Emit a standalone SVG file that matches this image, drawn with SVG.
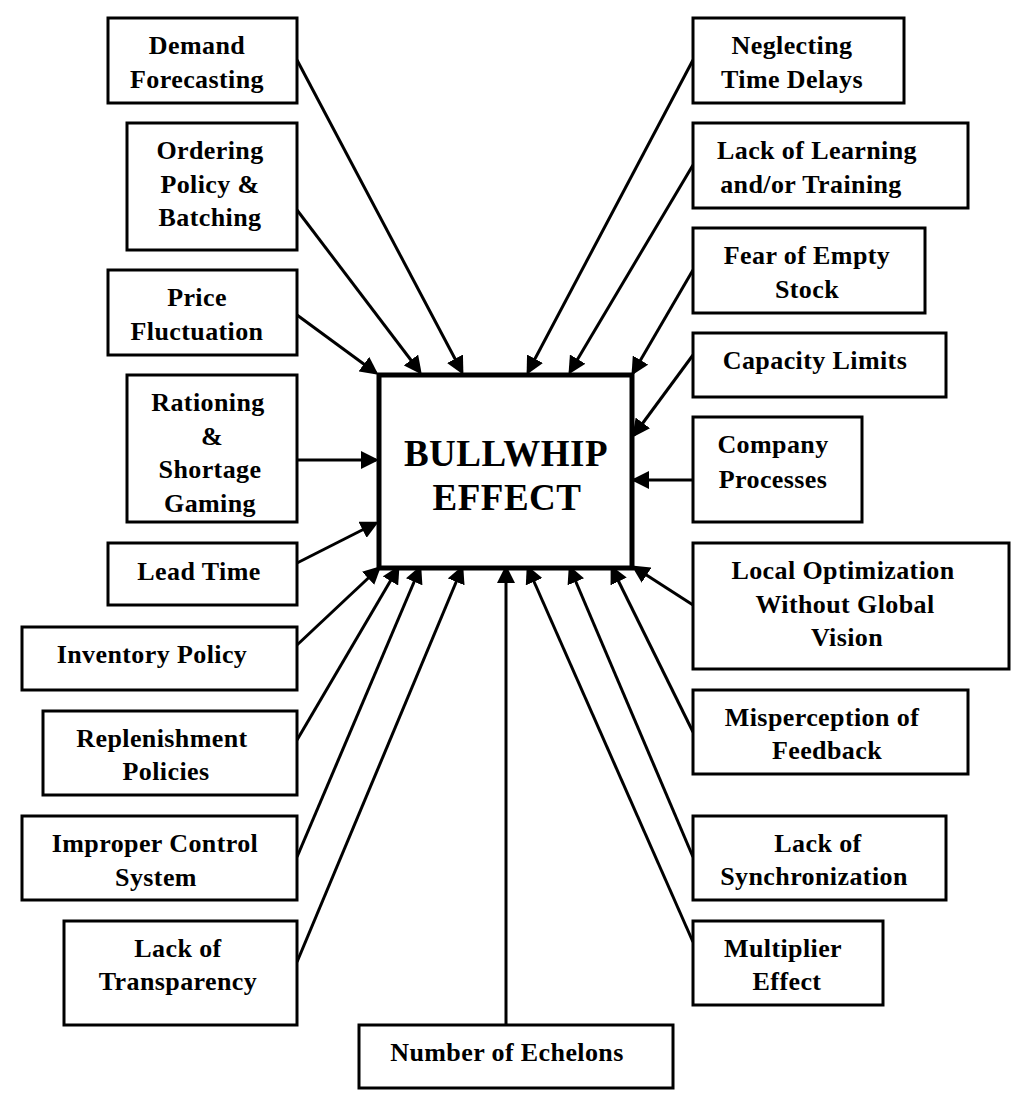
<svg xmlns="http://www.w3.org/2000/svg" width="1023" height="1099" viewBox="0 0 1023 1099">
<style>
.b{fill:#fff;stroke:#000;stroke-width:3}
.t{font-family:"Liberation Serif",serif;font-weight:bold;font-size:26px;letter-spacing:0.4px;text-anchor:middle;fill:#000}
.c{stroke:#000;stroke-width:3;fill:none;marker-end:url(#a)}
</style>
<defs><marker id="a" markerWidth="6" markerHeight="6" refX="5" refY="3" orient="auto"><path d="M0,0L6,3L0,6z" fill="#000"/></marker></defs>
<rect width="1023" height="1099" fill="#fff"/>
<g id="connectors">
<line class="c" x1="297" y1="60" x2="462" y2="372"/>
<line class="c" x1="297" y1="210" x2="420" y2="372"/>
<line class="c" x1="297" y1="315" x2="376" y2="373"/>
<line class="c" x1="297" y1="460" x2="376" y2="460"/>
<line class="c" x1="297" y1="563" x2="376" y2="523"/>
<line class="c" x1="297" y1="645" x2="379" y2="568"/>
<line class="c" x1="297" y1="740" x2="398" y2="568"/>
<line class="c" x1="297" y1="857" x2="420" y2="568"/>
<line class="c" x1="297" y1="962" x2="462" y2="568"/>
<line class="c" x1="506" y1="1025" x2="506" y2="568"/>
<line class="c" x1="693" y1="60" x2="528" y2="372"/>
<line class="c" x1="693" y1="165" x2="570" y2="372"/>
<line class="c" x1="693" y1="270" x2="633" y2="373"/>
<line class="c" x1="693" y1="355" x2="634" y2="435"/>
<line class="c" x1="693" y1="480" x2="634" y2="480"/>
<line class="c" x1="693" y1="605" x2="634" y2="567"/>
<line class="c" x1="693" y1="732" x2="612" y2="568"/>
<line class="c" x1="693" y1="857" x2="570" y2="568"/>
<line class="c" x1="693" y1="942" x2="528" y2="568"/>
</g>
<g id="center"><rect x="379" y="375" width="253" height="193" fill="#fff" stroke="#000" stroke-width="5"/>
<text class="t" style="font-size:37px;letter-spacing:0.5px" x="506" y="466">BULLWHIP</text><text class="t" style="font-size:37px;letter-spacing:0.5px" x="507" y="510">EFFECT</text></g>
<g id="n1"><rect class="b" x="108" y="18" width="189" height="85"/><text class="t" x="197" y="54">Demand</text><text class="t" x="197" y="88">Forecasting</text></g>
<g id="n2"><rect class="b" x="127" y="123" width="170" height="127"/><text class="t" x="210" y="159">Ordering</text><text class="t" x="210" y="193">Policy &amp;</text><text class="t" x="210" y="226">Batching</text></g>
<g id="n3"><rect class="b" x="108" y="270" width="189" height="85"/><text class="t" x="197" y="306">Price</text><text class="t" x="197" y="340">Fluctuation</text></g>
<g id="n4"><rect class="b" x="127" y="375" width="170" height="147"/><text class="t" x="208" y="411">Rationing</text><text class="t" x="212" y="445">&amp;</text><text class="t" x="210" y="478">Shortage</text><text class="t" x="210" y="512">Gaming</text></g>
<g id="n5"><rect class="b" x="108" y="543" width="189" height="62"/><text class="t" x="199" y="580">Lead Time</text></g>
<g id="n6"><rect class="b" x="22" y="627" width="275" height="63"/><text class="t" x="152" y="663">Inventory Policy</text></g>
<g id="n7"><rect class="b" x="43" y="711" width="254" height="84"/><text class="t" x="162" y="747">Replenishment</text><text class="t" x="166" y="780">Policies</text></g>
<g id="n8"><rect class="b" x="22" y="816" width="275" height="84"/><text class="t" x="155" y="852">Improper Control</text><text class="t" x="156" y="886">System</text></g>
<g id="n9"><rect class="b" x="64" y="921" width="233" height="104"/><text class="t" x="178" y="957">Lack of</text><text class="t" x="178" y="990">Transparency</text></g>
<g id="n10"><rect class="b" x="359" y="1025" width="314" height="63"/><text class="t" x="507" y="1061">Number of Echelons</text></g>
<g id="n11"><rect class="b" x="693" y="18" width="211" height="85"/><text class="t" x="792" y="54">Neglecting</text><text class="t" x="792" y="88">Time Delays</text></g>
<g id="n12"><rect class="b" x="693" y="123" width="275" height="85"/><text class="t" x="817" y="159">Lack of Learning</text><text class="t" x="811" y="193">and/or Training</text></g>
<g id="n13"><rect class="b" x="693" y="228" width="232" height="85"/><text class="t" x="807" y="264">Fear of Empty</text><text class="t" x="807" y="298">Stock</text></g>
<g id="n14"><rect class="b" x="693" y="333" width="253" height="64"/><text class="t" x="815" y="369">Capacity Limits</text></g>
<g id="n15"><rect class="b" x="693" y="417" width="169" height="105"/><text class="t" x="773" y="453">Company</text><text class="t" x="773" y="488">Processes</text></g>
<g id="n16"><rect class="b" x="693" y="543" width="316" height="126"/><text class="t" x="843" y="579">Local Optimization</text><text class="t" x="845" y="613">Without Global</text><text class="t" x="847" y="646">Vision</text></g>
<g id="n17"><rect class="b" x="693" y="690" width="275" height="84"/><text class="t" x="822" y="726">Misperception of</text><text class="t" x="827" y="759">Feedback</text></g>
<g id="n18"><rect class="b" x="693" y="816" width="253" height="84"/><text class="t" x="818" y="852">Lack of</text><text class="t" x="814" y="885">Synchronization</text></g>
<g id="n19"><rect class="b" x="693" y="921" width="190" height="84"/><text class="t" x="783" y="957">Multiplier</text><text class="t" x="787" y="990">Effect</text></g>
</svg>
